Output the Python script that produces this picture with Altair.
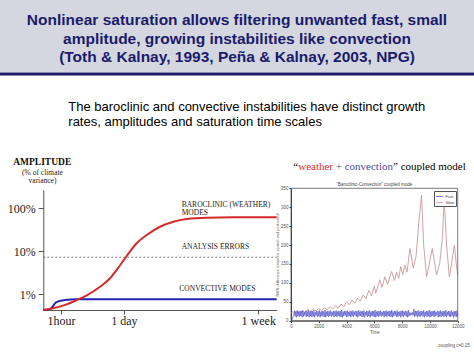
import json
import altair as alt
import pandas as pd

# ---------------- text ----------------
title_lines = ["Nonlinear saturation allows filtering unwanted fast, small",
               "amplitude, growing instabilities like convection",
               "(Toth & Kalnay, 1993, Peña & Kalnay, 2003, NPG)"]
subtitle_lines = ["The baroclinic and convective instabilities have distinct growth",
                  "rates, amplitudes and saturation time scales"]

# ---------------- left schematic ----------------
# schematic time units (0-100) vs amplitude (% of climate variance, log)
weather_t = [0, 4.3, 10, 14.3, 18.6, 24.3, 28.6, 31.4, 34.3, 37.1, 40, 44.3, 50, 55.7, 61.4, 70, 81.4, 100]
weather_amp = [0.43, 0.47, 0.58, 0.73, 0.94, 1.49, 2.34, 3.64, 6.0, 9.7, 15.2, 23.6, 36.8, 48, 55.6, 59.6, 60.7, 60.7]
conv_t = [0, 2.9, 4, 5, 6.4, 9.3, 14.3, 100]
conv_amp = [0.43, 0.45, 0.51, 0.615, 0.68, 0.73, 0.76, 0.76]
analysis_t = [0, 100]
analysis_amp = [7.2, 7.2]
time_ticks = [7.6, 34.5, 92.1]
time_labels = ["1hour", "1 day", "1 week"]
amp_ticks = [1, 10, 100]

# ---------------- right: coupled model ----------------
slow_time = [0, 150, 300, 450, 600, 800, 1000, 1200, 1400, 1600, 1800, 2000, 2200, 2400, 2600, 2800,
             3000, 3200, 3400, 3600, 3800, 4000, 4200, 4400, 4600, 4800, 5000, 5200, 5400, 5600, 5800,
             6000, 6100, 6400, 6550, 6760, 6950, 7240, 7450, 7600, 7750, 7900, 8050, 8200, 8350, 8560,
             8800, 9000, 9200, 9400, 9550, 9760, 9950, 10170, 10480, 10700, 10900, 11030, 11200, 11400,
             11600, 11760, 11900, 12000]
slow_val = [20, 24, 18, 26, 20, 27, 22, 30, 24, 31, 26, 32, 27, 34, 29, 37,
            31, 39, 33, 44, 37, 50, 42, 55, 46, 60, 52, 68, 58, 80, 66,
            92, 72, 108, 88, 116, 96, 130, 106, 128, 112, 143, 122, 147, 128, 191,
            139, 170, 260, 332, 200, 116, 150, 191, 121, 150, 220, 324, 200, 116,
            160, 200, 150, 121]
fast_val = [0, 2, 5, 10, 14, 26, 11, 25, 9, 27,
            12, 24, 10, 26, 13, 25, 9, 27, 11, 23,
            14, 26, 10, 25, 12, 28, 9, 24, 13, 26,
            10, 25, 11, 27, 9, 23, 14, 26, 10, 25,
            12, 27, 9, 24, 13, 26, 11, 25, 10, 28,
            9, 24, 12, 26, 10, 25, 13, 27, 11, 23,
            14, 26, 9, 25, 12, 27, 10, 24, 13, 26,
            11, 25, 10, 28, 9, 24, 12, 26, 14, 25,
            10, 27, 11, 23, 13, 26, 9, 25, 12, 27,
            10, 24, 14, 26, 11, 25, 9, 28, 12, 24,
            13, 26, 10, 25, 11, 27, 9, 23, 14, 26,
            10, 25, 12, 27, 9, 24, 13, 26, 11, 25,
            10, 28, 9, 24, 12, 26, 10, 25, 13, 27,
            11, 23, 14, 26, 9, 25, 12, 27, 10, 24,
            13, 26, 11, 25, 10, 28, 9, 24, 12, 26,
            14, 25, 10, 27, 11, 23, 13, 26, 9, 25,
            12, 27, 10, 24, 14, 26, 11, 25, 9, 28,
            12, 22, 14, 21, 15, 22, 14, 31, 10, 26,
            13, 25, 9, 27, 12, 24, 10, 26, 14, 25,
            11, 27, 9, 23, 13, 26, 10, 25, 12, 28,
            9, 24, 11, 26, 13, 25, 10, 27, 12, 23,
            14, 26, 9, 25, 11, 27, 10, 24, 13, 26,
            10, 25, 12, 28, 9, 24, 14, 26, 11, 25,
            10, 27, 13, 23, 9, 26, 12, 25, 10, 27,
            12]
fast_time = [i * 50 for i in range(len(fast_val))]
series_names = ["Fast", "Slow"]
time_axis_ticks = [0, 2000, 4000, 6000, 8000, 10000, 12000]
val_axis_ticks = [0, 50, 100, 150, 200, 250, 300, 350]

one = pd.DataFrame({"k": [0]})
SERIF = "Liberation Serif"
SANS = "Liberation Sans"


def txt(text, x, y, size, color="#000", font=SANS, weight="normal", align="left", lh=None):
    kw = dict(text=text, fontSize=size, color=color, font=font, fontWeight=weight,
              align=align, baseline="alphabetic")
    if lh:
        kw["lineHeight"] = lh
    return alt.Chart(one).mark_text(**kw).encode(x=alt.value(x), y=alt.value(y))


# ---------------- header ----------------
header_bg = alt.Chart(one).mark_rect(color="#d4d7df").encode(
    x=alt.value(0), x2=alt.value(474), y=alt.value(0), y2=alt.value(72))
header_rule = alt.Chart(one).mark_rule(color="#1b1b6b", strokeWidth=3).encode(
    x=alt.value(0), x2=alt.value(474), y=alt.value(74))
title = txt(title_lines, 237, 25, 15.5, color="#1b1b6b", weight="bold", align="center", lh=18.5)
subtitle = txt(subtitle_lines, 68.3, 110.7, 13, color="#000", lh=15)

# ---------------- left chart ----------------
xs = alt.Scale(domain=[0, 100], range=[43.3, 276.7], nice=False, zero=False)
ys = alt.Scale(type="log", domain=[0.43, 262], range=[310, 190], nice=False)
x_axis = alt.Axis(orient="bottom", offset=-45, values=time_ticks,
                  labelExpr=f"{json.dumps(time_labels)}[indexof({json.dumps(time_ticks)}, datum.value)]",
                  title=None, grid=False, domainColor="#555", tickColor="#555", tickSize=4,
                  labelFont=SERIF, labelFontSize=12, labelColor="#222", labelPadding=1,
                  labelFlush=False, labelOverlap=False)
y_axis = alt.Axis(orient="left", offset=-43.3, values=amp_ticks, labelExpr="datum.value + '%'",
                  title=None, grid=False, domainColor="#555", tickColor="#555", tickSize=5,
                  labelFont=SERIF, labelFontSize=12, labelColor="#222", labelPadding=3,
                  labelFlush=False, labelOverlap=False)


def lx(field):
    return alt.X(field, type="quantitative", scale=xs, axis=x_axis)


def ly(field):
    return alt.Y(field, type="quantitative", scale=ys, axis=y_axis)


def left_label(text, u, amp, lh=None):
    kw = dict(text=text, fontSize=7.5, font=SERIF, color="#222", align="left", baseline="alphabetic")
    if lh:
        kw["lineHeight"] = lh
    return alt.Chart(one).mark_text(**kw).encode(
        x=alt.XDatum(u, type="quantitative", scale=xs, axis=x_axis),
        y=alt.YDatum(amp, type="quantitative", scale=ys, axis=y_axis))


analysis = alt.Chart(pd.DataFrame({"t": analysis_t, "amp": analysis_amp})).mark_line(
    color="#555", strokeWidth=0.8, strokeDash=[2, 2]).encode(x=lx("t"), y=ly("amp"))
weather = alt.Chart(pd.DataFrame({"t": weather_t, "amp": weather_amp})).mark_line(
    color="#d42a2a", strokeWidth=2, interpolate="monotone").encode(x=lx("t"), y=ly("amp"))
convect = alt.Chart(pd.DataFrame({"t": conv_t, "amp": conv_amp})).mark_line(
    color="#2424b4", strokeWidth=2, interpolate="monotone").encode(x=lx("t"), y=ly("amp"))

left = alt.layer(
    analysis, convect, weather,
    left_label(["BAROCLINIC (WEATHER)", "MODES"], 59.3, 107.2, lh=8.5),
    left_label("ANALYSIS ERRORS", 59.3, 11.0),
    left_label("CONVECTIVE MODES", 58.3, 1.206),
)

amp_title = txt("AMPLITUDE", 42.2, 165, 9.5, color="#111", font=SERIF, weight="bold", align="center")
amp_sub = txt(["(% of climate", "variance)"], 42.5, 175, 7.5, color="#222", font=SERIF, align="center", lh=7.8)

# ---------------- right chart ----------------
xs2 = alt.Scale(domain=[0, 12000], range=[291, 457.7], nice=False, zero=False)
ys2 = alt.Scale(domain=[0, 350], range=[320.7, 188.3], nice=False, zero=False)
x_axis2 = alt.Axis(orient="bottom", offset=-34.3, values=time_axis_ticks, format="d", title="Time",
                   grid=False, domainColor="#444", tickColor="#444", tickSize=2,
                   labelFont=SANS, labelFontSize=4.5, labelColor="#555", labelPadding=1,
                   titleFont=SANS, titleFontSize=4.5, titleFontWeight="normal", titleColor="#555",
                   titlePadding=1, labelFlush=False, labelOverlap=False)
y_axis2 = alt.Axis(orient="left", offset=-291, values=val_axis_ticks, format="d",
                   title="RMS difference between control and perturbed",
                   grid=False, domainColor="#444", tickColor="#444", tickSize=2,
                   labelFont=SANS, labelFontSize=4.5, labelColor="#555", labelPadding=1,
                   titleFont=SANS, titleFontSize=4, titleFontWeight="normal", titleColor="#666",
                   titlePadding=1, labelFlush=False, labelOverlap=False)
color2 = alt.Color("series:N", scale=alt.Scale(domain=series_names, range=["#5656cc", "#c99a9a"]),
                   legend=alt.Legend(orient="none", legendX=434, legendY=191, title=None,
                                     symbolType="stroke", symbolSize=50, symbolStrokeWidth=0.8,
                                     labelFontSize=4, labelFont=SANS, labelColor="#444",
                                     padding=1.5, strokeColor="#555", fillColor="white",
                                     rowPadding=0, labelOffset=2, cornerRadius=0))

slow_df = pd.DataFrame({"time": slow_time, "val": slow_val, "series": "Slow"})
fast_df = pd.DataFrame({"time": fast_time, "val": fast_val, "series": "Fast"})


def rx(field):
    return alt.X(field, type="quantitative", scale=xs2, axis=x_axis2)


def ry(field):
    return alt.Y(field, type="quantitative", scale=ys2, axis=y_axis2)


slow_line = alt.Chart(slow_df).mark_line(strokeWidth=0.9).encode(x=rx("time"), y=ry("val"), color=color2)
fast_line = alt.Chart(fast_df).mark_line(strokeWidth=0.7).encode(x=rx("time"), y=ry("val"), color=color2)
frame = alt.Chart(one).mark_rect(fillOpacity=0, stroke="#444", strokeWidth=0.7).encode(
    x=alt.XDatum(0, type="quantitative", scale=xs2, axis=x_axis2), x2=alt.X2Datum(12000),
    y=alt.YDatum(0, type="quantitative", scale=ys2, axis=y_axis2), y2=alt.Y2Datum(350))
inner_title = alt.Chart(one).mark_text(text="\u201cBaroclinic-Convection\u201d coupled mode", fontSize=4.5,
                                       font=SANS, color="#444", align="center", baseline="middle").encode(
    x=alt.XDatum(6000, type="quantitative", scale=xs2, axis=x_axis2),
    y=alt.YDatum(360, type="quantitative", scale=ys2, axis=y_axis2))

right = alt.layer(slow_line, fast_line, frame, inner_title)

rt_size = 11
rt_y = 170
right_title = [
    txt("\u201c", 293.3, rt_y, rt_size, font=SERIF),
    txt("weather", 298.2, rt_y, rt_size, color="#c83232", font=SERIF),
    txt("+", 335.8, rt_y, rt_size, color="#4b4ba0", font=SERIF),
    txt("convection", 344.7, rt_y, rt_size, color="#4b4ba0", font=SERIF),
    txt("\u201d coupled model", 393, rt_y, rt_size, font=SERIF),
]
footer = txt("coupling c=0.15", 454, 347, 4.5, color="#555", align="center")

chart = alt.layer(
    header_bg, header_rule, title, subtitle,
    left, amp_title, amp_sub,
    right, *right_title, footer,
).resolve_scale(x="independent", y="independent").resolve_axis(
    x="independent", y="independent"
).properties(
    width=474, height=355, autosize=alt.AutoSizeParams(type="none"), padding=0, background="white"
).configure_view(stroke=None)

chart.save("out.html", embed_options={"renderer": "svg", "actions": False})
